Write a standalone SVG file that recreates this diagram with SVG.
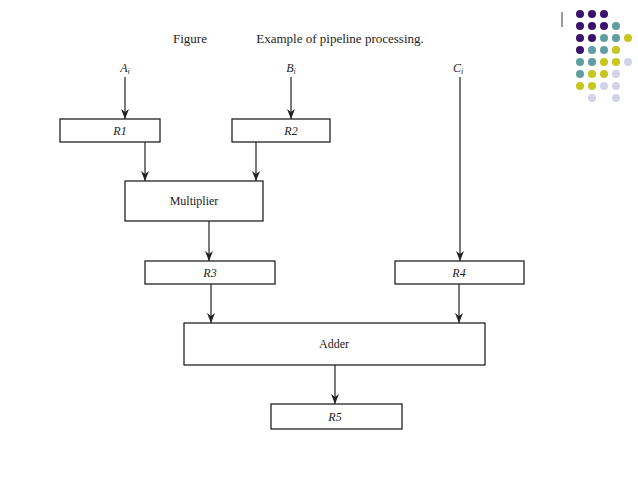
<svg xmlns="http://www.w3.org/2000/svg" width="638" height="478" viewBox="0 0 638 478">
<style>
.b{fill:none;stroke:#222;stroke-width:1.3}
.l{stroke:#222;stroke-width:1.2;fill:none}
.t{font-family:"Liberation Serif",serif;font-size:12px;fill:#222;text-anchor:middle}
.h{font-size:13px}
.i{font-style:italic}
.P{fill:#3a0f6a}.T{fill:#5f9ea0}.Y{fill:#c6c61c}.L{fill:#d2d2e8}
</style>
<defs>
<marker id="d" viewBox="0 0 10 8" markerWidth="10" markerHeight="8" refX="10" refY="4" orient="auto" markerUnits="userSpaceOnUse"><path d="M0,0 L10,4 L0,8 L3,4 Z" fill="#222"/></marker></defs>
<rect width="638" height="478" fill="#fff"/>
<text class="t h" x="190" y="43">Figure</text>
<text class="t h" x="340" y="43">Example of pipeline processing.</text>
<g id="labels">
<text class="t i" x="125" y="72">A<tspan font-size="8" dy="2">i</tspan></text>
<text class="t i" x="291" y="72">B<tspan font-size="8" dy="2">i</tspan></text>
<text class="t i" x="458" y="72">C<tspan font-size="8" dy="2">i</tspan></text>
</g>
<g id="connectors">
<path class="l" d="M125,77V119" marker-end="url(#d)"/>
<path class="l" d="M291,77V119" marker-end="url(#d)"/>
<path class="l" d="M145,142V181" marker-end="url(#d)"/>
<path class="l" d="M256,142V181" marker-end="url(#d)"/>
<path class="l" d="M209,221V261" marker-end="url(#d)"/>
<path class="l" d="M460,77V261" marker-end="url(#d)"/>
<path class="l" d="M211,284V323" marker-end="url(#d)"/>
<path class="l" d="M459,284V323" marker-end="url(#d)"/>
<path class="l" d="M335,365V404" marker-end="url(#d)"/>
</g>
<g id="R1"><rect class="b" x="60" y="119" width="100" height="23"/><text class="t i" x="120" y="135">R1</text></g>
<g id="R2"><rect class="b" x="232" y="119" width="98" height="23"/><text class="t i" x="291" y="135">R2</text></g>
<g id="Multiplier"><rect class="b" x="125" y="181" width="138" height="40"/><text class="t" x="194" y="205">Multiplier</text></g>
<g id="R3"><rect class="b" x="145" y="261" width="130" height="23"/><text class="t i" x="210" y="277">R3</text></g>
<g id="R4"><rect class="b" x="395" y="261" width="129" height="23"/><text class="t i" x="459" y="277">R4</text></g>
<g id="Adder"><rect class="b" x="184" y="323" width="301" height="42"/><text class="t" x="334" y="348">Adder</text></g>
<g id="R5"><rect class="b" x="271" y="404" width="131" height="25"/><text class="t i" x="335" y="421">R5</text></g>
<g id="dots">
<path d="M562,12V27" stroke="#333" stroke-width="1"/>
<circle class="P" cx="580" cy="14" r="4"/><circle class="P" cx="592" cy="14" r="4"/><circle class="P" cx="604" cy="14" r="4"/>
<circle class="P" cx="580" cy="26" r="4"/><circle class="P" cx="592" cy="26" r="4"/><circle class="P" cx="604" cy="26" r="4"/><circle class="T" cx="616" cy="26" r="4"/>
<circle class="P" cx="580" cy="38" r="4"/><circle class="P" cx="592" cy="38" r="4"/><circle class="T" cx="604" cy="38" r="4"/><circle class="T" cx="616" cy="38" r="4"/><circle class="Y" cx="628" cy="38" r="4"/>
<circle class="P" cx="580" cy="50" r="4"/><circle class="T" cx="592" cy="50" r="4"/><circle class="T" cx="604" cy="50" r="4"/><circle class="Y" cx="616" cy="50" r="4"/>
<circle class="T" cx="580" cy="62" r="4"/><circle class="T" cx="592" cy="62" r="4"/><circle class="Y" cx="604" cy="62" r="4"/><circle class="Y" cx="616" cy="62" r="4"/><circle class="L" cx="628" cy="62" r="4"/>
<circle class="T" cx="580" cy="74" r="4"/><circle class="Y" cx="592" cy="74" r="4"/><circle class="Y" cx="604" cy="74" r="4"/><circle class="L" cx="616" cy="74" r="4"/>
<circle class="Y" cx="580" cy="86" r="4"/><circle class="Y" cx="592" cy="86" r="4"/><circle class="L" cx="604" cy="86" r="4"/><circle class="L" cx="616" cy="86" r="4"/>
<circle class="L" cx="592" cy="98" r="4"/><circle class="L" cx="616" cy="98" r="4"/>
</g>
</svg>
